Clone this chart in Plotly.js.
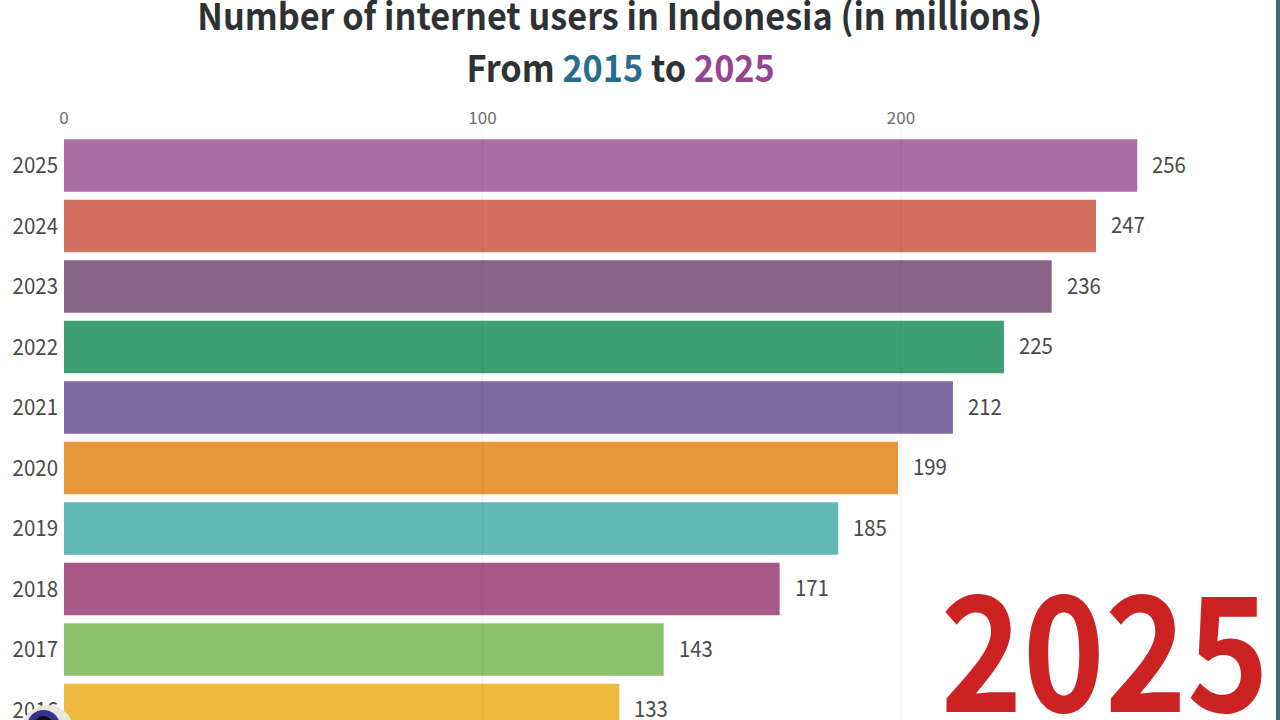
<!DOCTYPE html>
<html><head><meta charset="utf-8">
<script src="https://cdn.plot.ly/plotly-3.0.1.min.js"></script>
<style>html,body{margin:0;padding:0;background:#fff}#c{width:1280px;height:720px}</style>
</head><body><div id="c"></div>
<script>
const years = ['2016','2017','2018','2019','2020','2021','2022','2023','2024','2025'];
const users = [132.7,143.3,171,185,199.3,212.4,224.6,236,246.6,256.45];
const userLabels = ['133','143','171','185','199','212','225','236','247','256'];
const barColors = ['#ecbb3c','#8dc06c','#a75a88','#60b9b7','#e69739','#7e69a2','#3e9f74','#876385','#d37160','#aa6ea5'];
const xTicks = [0,100,200];
const fontName = '"Noto Sans CJK SC","Noto Sans",sans-serif';
const W=1280,H=720,L=64,T=128;
const px=v=>(v-L)/(W-L), py=v=>(H-v)/(H-T);

const annotations = years.map((y,i)=>({
  x:users[i], y:i, xref:'x', yref:'y', text:userLabels[i], showarrow:false,
  xanchor:'left', yanchor:'middle', xshift:13, yshift:3, align:'left', captureevents:false,
  font:{family:fontName,size:22,color:'#4a4a48'}
}));
annotations.push({xref:'paper',yref:'paper',x:px(1104.5),y:py(641.5),xanchor:'center',yanchor:'middle',
  text:'<b>2025</b>',showarrow:false,font:{family:fontName,size:160,color:'#cc2322'}});
annotations.push({xref:'paper',yref:'paper',x:px(619),y:1,xanchor:'center',yanchor:'bottom',showarrow:false,
  text:'<b>Number of internet users in Indonesia (in millions)</b>',font:{family:fontName,size:37,color:'#2e3235'},yshift:85});
annotations.push({xref:'paper',yref:'paper',x:px(620),y:1,xanchor:'center',yanchor:'bottom',showarrow:false,
  text:'<b>From <span style="color:#276d8f">2015</span> to <span style="color:#95458f">2025</span></b>',font:{family:fontName,size:37,color:'#2e3235'},yshift:33});

const gridShapes = xTicks.slice(1).map(t=>({type:'line',xref:'x',yref:'paper',x0:t,x1:t,y0:0,y1:1.01,layer:'above',
  line:{color:'rgba(70,60,70,0.07)',width:1.2}}));
const decor = [
  {type:'rect',xref:'paper',yref:'paper',x0:px(1276),x1:px(1281),y0:py(0),y1:py(720),layer:'above',line:{width:0},fillcolor:'#3f6b6b'},
  {type:'circle',xref:'paper',yref:'paper',x0:px(21),x1:px(74),y0:py(705),y1:py(758),layer:'above',line:{width:0},fillcolor:'#e9e6df'},
  {type:'circle',xref:'paper',yref:'paper',x0:px(27),x1:px(60),y0:py(710),y1:py(743),layer:'above',line:{width:0},fillcolor:'#34348f'},
  {type:'circle',xref:'paper',yref:'paper',x0:px(34),x1:px(53),y0:py(716),y1:py(735),layer:'above',line:{width:0},fillcolor:'#0c0c14'}
];

Plotly.newPlot('c',[{
  type:'bar',orientation:'h',y:years,x:users,width:0.87,
  marker:{color:barColors,line:{width:0}},
  hoverinfo:'skip'
}],{
  width:W,height:H,
  margin:{l:L,r:0,t:T,b:0,pad:0},
  paper_bgcolor:'#fff',plot_bgcolor:'#fff',showlegend:false,
  xaxis:{side:'top',range:[0,(W-L)/4.185],tickvals:xTicks,ticktext:xTicks.map(String),
    showgrid:false,zeroline:false,showline:false,ticks:'',
    tickfont:{family:fontName,size:17,color:'#6b6b6b'},automargin:false},
  yaxis:{type:'category',categoryorder:'array',categoryarray:years,range:[-0.165,9.62],
    showgrid:false,zeroline:false,showline:false,ticks:'',ticklabelstandoff:5,
    tickfont:{family:fontName,size:22,color:'#4a4a48'},automargin:false},
  annotations:annotations,
  shapes:gridShapes.concat(decor)
},{displayModeBar:false,staticPlot:true}).then(gd=>{
  // the reference image is horizontally condensed: narrow the drawn glyphs, text stays real text
  const squeeze=(el,k)=>{const n=el.getComputedTextLength();el.setAttribute('textLength',n*k);el.setAttribute('lengthAdjust','spacingAndGlyphs');};
  gd.querySelectorAll('.annotation-text').forEach(el=>{
    const t=el.textContent;
    squeeze(el, t==='2025'?0.87:0.925);
  });
  gd.querySelectorAll('.ytick text').forEach(el=>squeeze(el,0.93));
});
</script></body></html>
